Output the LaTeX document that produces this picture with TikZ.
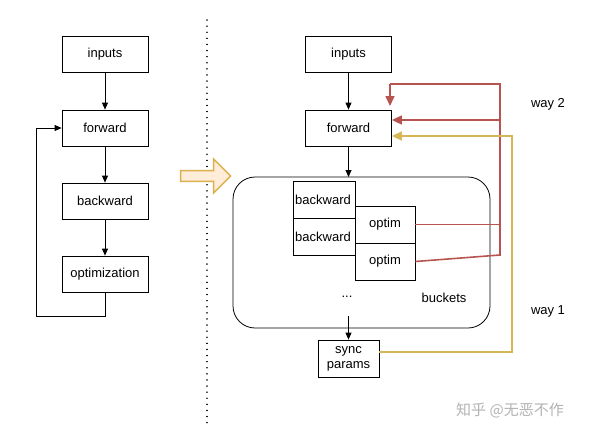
\documentclass[tikz,border=0pt]{standalone}
\usepackage{fontspec}
\setmainfont{Liberation Sans}
\newfontfamily\cjk{Noto Sans CJK SC}
\usetikzlibrary{arrows.meta,shapes.arrows}
\definecolor{wayred}{RGB}{184,84,80}
\definecolor{wayyel}{RGB}{214,182,86}
\begin{document}
\begin{tikzpicture}[x=1pt,y=-1pt,font=\fontsize{13}{15}\selectfont,
  box/.style={draw,line width=0.8pt,minimum width=86pt,minimum height=36pt,inner sep=0pt},
  sbox/.style={draw,line width=0.8pt,minimum width=62pt,minimum height=37pt,inner sep=0pt},
  arr/.style={-{Triangle[length=7pt,width=6pt]},line width=0.8pt},
  red/.style={wayred,line width=1.6pt},
  yel/.style={wayyel,line width=1.6pt},
  rarr/.style={-{Triangle[length=10pt,width=9pt]}}]
\useasboundingbox (0,0) rectangle (600,437);
% left column
\node[box] (li) at (105,54.5) {inputs};
\node[box] (lf) at (105,128) {forward};
\node[box] (lb) at (105,201) {backward};
\node[box] (lo) at (105,274) {optimization};
\draw[arr] (li) -- (lf);
\draw[arr] (lf) -- (lb);
\draw[arr] (lb) -- (lo);
\draw[arr] (lo.south) |- (36,316) |- (lf.west);
% divider
\draw[line width=1.4pt,dash pattern=on 0.1pt off 6pt,line cap=round] (207,20) -- (207,425);
% big arrow
\node[single arrow,draw=wayyel!90!orange,fill=orange!15,line width=1.5pt,minimum width=34pt,
  single arrow head extend=6pt,minimum height=50pt,inner sep=2pt] (ba) at (203,176) {};
% right column
\node[box] (ri) at (348.5,54.5) {inputs};
\node[box] (rf) at (348.5,128) {forward};
\draw[line width=0.8pt,rounded corners=22pt] (233,177) rectangle (490,328);
\coordinate (bt) at (348.5,177);
\draw[arr] (ri) -- (rf);
\draw[arr] (rf) -- (bt);
\node[sbox] (b1) at (324,200) {\hspace*{-2pt}backward};
\node[sbox] (b2) at (324,237) {\hspace*{-2pt}backward};
\node[sbox,minimum width=60pt] (o1) at (385,224.5) {optim};
\node[sbox,minimum width=60pt] (o2) at (385,261.5) {optim};
\node (dots) at (347,297) {...};
\node (bk) at (444,298) {buckets};
\node[draw,line width=0.8pt,minimum width=61pt,minimum height=37pt,inner sep=0pt,align=center,
  font=\fontsize{13}{15}\selectfont] (sp) at (348.5,358.5) {sync\\params};
\coordinate (dt) at (348.5,316);
\draw[arr] (dt) -- (sp);
% way 2
\draw[red] (o1.east) -- (500,224.5);
\draw[red] (o2.east) -- (500,255) -- (500,84) -- (390,84);
\draw[red,rarr] (390,84) -- (390,106);
\draw[red,rarr] (500,120) -- (rf.east |- 0,120);
% way 1
\draw[yel,rarr] (sp.east |- 0,352) -- (512,352) -- (512,136) -- (rf.east |- 0,136);
\node (w2) at (548,104) {way 2};
\node (w1) at (548,311) {way 1};
\node[text=gray!60,font=\cjk\fontsize{15}{17}\selectfont] (wm) at (510,410) {知乎 @无恶不作};
\end{tikzpicture}
\end{document}
